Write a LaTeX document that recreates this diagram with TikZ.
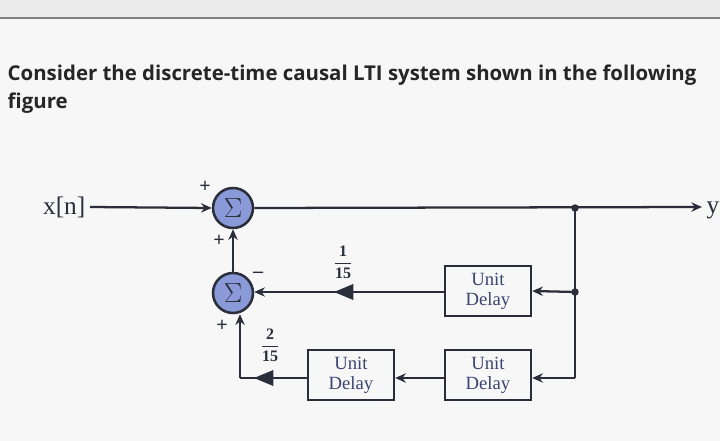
\documentclass[tikz,border=0pt]{standalone}
\usepackage{fontspec}
\setmainfont{Liberation Serif}
\newfontfamily\hdr{Open Sans}
\usetikzlibrary{arrows.meta,shapes.geometric}
\definecolor{ln}{HTML}{2A2E3A}
\definecolor{sumf}{HTML}{8A9AD8}
\definecolor{txt}{HTML}{3A4470}
\begin{document}
\begin{tikzpicture}[x=0.75pt,y=-0.75pt,
  wire/.style={draw=ln,line width=1.7pt},
  arr/.style={wire,-{Stealth[length=8pt,width=7pt]}},
  sumn/.style={circle,draw=ln,line width=1.9pt,fill=sumf,minimum size=30pt,inner sep=0pt,font=\fontsize{21}{21}\selectfont,text=ln},
  dly/.style={draw=ln,line width=1.3pt,minimum width=65pt,minimum height=37pt,align=center,text=txt,font=\fontsize{14}{15}\selectfont,inner sep=1pt},
  gain/.style={fill=ln,isosceles triangle,inner sep=0pt,minimum size=12pt},
  frac/.style={text=ln,font=\fontsize{12}{12}\selectfont,inner sep=0pt},
  sgn/.style={font=\bfseries\fontsize{15}{15}\selectfont,text=ln}]
\useasboundingbox (0,0) rectangle (720,441);
\clip (0,0) rectangle (720,441);
\fill[white!94!gray] (0,0) rectangle (720,441);
\fill[white!85!gray] (0,0) rectangle (720,18);
\draw[gray,line width=1pt] (0,18) -- (720,18);
\node[anchor=west,font=\hdr\bfseries\fontsize{15.3}{18}\selectfont,text=black!85] (t1) at (3,75) {Consider the discrete-time causal LTI system shown in the following};
\node[anchor=west,font=\hdr\bfseries\fontsize{15.3}{18}\selectfont,text=black!85] (t2) at (3,103) {figure};
\node[font=\fontsize{19}{20}\selectfont,anchor=east,text=ln] (x) at (90,207) {x[n]};
\node[sumn] (s1) at (233,208) {$\Sigma$};
\node[sumn] (s2) at (233,293) {$\Sigma$};
\node[dly] (d1) at (488,291) {Unit\\Delay};
\node[dly] (d2) at (351,375) {Unit\\Delay};
\node[dly] (d3) at (488,375) {Unit\\Delay};
\node[font=\fontsize{19}{20}\selectfont,anchor=west,text=ln] (y) at (702,207) {y[n]};
\coordinate (b1) at (575,208);
\coordinate (b2) at (575,292);
\coordinate (b3) at (575,378);
\coordinate (c1) at (240,378);
\draw[arr] (x.east) -- (s1.west);
\draw[arr] (s1.east) -- (y.west);
\fill[ln] (b1) circle (2.8pt) (b2) circle (2.8pt);
\draw[wire] (b1) -- (b3);
\draw[arr] (b2) -- (d1.east);
\draw[arr] (b3) -- (d3.east |- b3);
\draw[arr] (d3.west |- b3) -- (d2.east |- b3);
\draw[wire] (d2.west |- b3) -- (c1);
\draw[arr] (c1) -- (c1 |- s2.south);
\draw[arr] (d1.west |- b2) -- (s2.east |- b2);
\draw[arr] (s2.north) -- (s1.south);
\node[gain,shape border rotate=180] (g1) at (348,292) {};
\node[gain,shape border rotate=180] (g2) at (268,378) {};
\node[frac] (l1) at (343,262) {$\displaystyle\frac{\mathbf{1}}{\mathbf{15}}$};
\node[frac] (l2) at (270,345) {$\displaystyle\frac{\mathbf{2}}{\mathbf{15}}$};
\node[sgn] (p1) at (205,187) {+};
\node[sgn] (p2) at (219,241) {+};
\node[sgn] (m1) at (258,275) {--};
\node[sgn] (p3) at (222,326) {+};
\end{tikzpicture}
\end{document}
